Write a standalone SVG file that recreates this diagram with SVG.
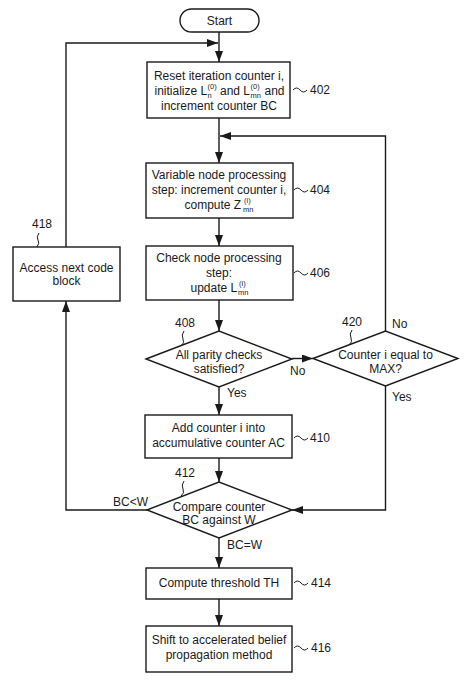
<svg xmlns="http://www.w3.org/2000/svg" width="474" height="695" viewBox="0 0 474 695">
<style>
.b{fill:#fff;stroke:#1a1a1a;stroke-width:1.4}
.t{font-family:"Liberation Sans",Arial,sans-serif;font-size:12px;fill:#1a1a1a}
.m{text-anchor:middle}
.s{font-family:"Liberation Sans",Arial,sans-serif;font-size:7.5px;fill:#1a1a1a}
.c{fill:none;stroke:#1a1a1a;stroke-width:1.4}
.l{fill:none;stroke:#1a1a1a;stroke-width:1}
</style>
<defs>
<marker id="a" markerUnits="userSpaceOnUse" markerWidth="12" markerHeight="8" refX="11" refY="4" orient="auto">
<path d="M0,0 L11,4 L0,8 Z" fill="#1a1a1a"/>
</marker>
</defs>
<rect width="474" height="695" fill="#fff"/>
<g id="connectors">
<path class="c" d="M219,32 V62" marker-end="url(#a)"/>
<path class="c" d="M66,247 V43 H218" marker-end="url(#a)"/>
<path class="c" d="M219,118 V163" marker-end="url(#a)"/>
<path class="c" d="M385.5,331 V136 H220" marker-end="url(#a)"/>
<path class="c" d="M219,218 V246" marker-end="url(#a)"/>
<path class="c" d="M219,300 V331" marker-end="url(#a)"/>
<path class="c" d="M292,358.5 H313" marker-end="url(#a)"/>
<path class="c" d="M219,387 V415" marker-end="url(#a)"/>
<path class="c" d="M219,458 V482" marker-end="url(#a)"/>
<path class="c" d="M385.5,386 V510 H292" marker-end="url(#a)"/>
<path class="c" d="M147,510 H66 V301" marker-end="url(#a)"/>
<path class="c" d="M219,538 V568" marker-end="url(#a)"/>
<path class="c" d="M219,599 V626" marker-end="url(#a)"/>
<text class="t" x="227" y="397">Yes</text>
<text class="t" x="392" y="328">No</text>
<text class="t" x="392" y="401">Yes</text>
<text class="t" x="290" y="375">No</text>
<text class="t" x="113" y="506">BC&lt;W</text>
<text class="t" x="227" y="549">BC=W</text>
</g>
<g id="start">
<rect class="b" x="180" y="9" width="79" height="23" rx="11.5"/>
<text class="t m" x="219.5" y="25">Start</text>
</g>
<g id="n402">
<rect class="b" x="147" y="62" width="143" height="56"/>
<text class="t m" x="219" y="80">Reset iteration counter i,</text>
<text class="t" x="154.5" y="95">initialize L</text>
<text class="s" x="207.5" y="89">(0)</text>
<text class="s" x="207.5" y="98">n</text>
<text class="t" x="220" y="95">and L</text>
<text class="s" x="250.5" y="89">(0)</text>
<text class="s" x="250.5" y="98">mn</text>
<text class="t" x="264.5" y="95">and</text>
<text class="t m" x="219" y="110">increment counter BC</text>
<path class="l" d="M293,90 q3.5,-4 7,0 t7,0"/>
<text class="t" x="310" y="94">402</text>
</g>
<g id="n404">
<rect class="b" x="146" y="163" width="147" height="55"/>
<text class="t m" x="219" y="179">Variable node processing</text>
<text class="t m" x="219" y="194">step: increment counter i,</text>
<text class="t" x="184.5" y="209">compute Z</text>
<text class="s" x="244" y="203">(i)</text>
<text class="s" x="243" y="212">mn</text>
<path class="l" d="M294,190 q3.5,-4 7,0 t7,0"/>
<text class="t" x="310" y="194">404</text>
</g>
<g id="n406">
<rect class="b" x="146" y="246" width="147" height="54"/>
<text class="t m" x="219" y="262">Check node  processing</text>
<text class="t m" x="219" y="277">step:</text>
<text class="t" x="190.5" y="292">update L</text>
<text class="s" x="239" y="286">(i)</text>
<text class="s" x="238" y="295">mn</text>
<path class="l" d="M294,273 q3.5,-4 7,0 t7,0"/>
<text class="t" x="310" y="277">406</text>
</g>
<g id="n418">
<rect class="b" x="13" y="247" width="107" height="54"/>
<text class="t m" x="66.5" y="272">Access next code</text>
<text class="t m" x="66.5" y="285">block</text>
<path class="l" d="M39,233 q-3,4 -1,7 t-1,7"/>
<text class="t" x="32" y="228">418</text>
</g>
<g id="n408">
<path class="b" d="M146,359 L219,331 L292,359 L219,387 Z"/>
<text class="t m" x="219" y="359">All parity checks</text>
<text class="t m" x="219" y="373">satisfied?</text>
<path class="l" d="M184,331 q-3,4 -1,8 t-2,7"/>
<text class="t" x="175" y="327">408</text>
</g>
<g id="n420">
<path class="b" d="M313,358.5 L385.5,331 L458,358.5 L385.5,386 Z"/>
<text class="t m" x="385.5" y="359">Counter i equal to</text>
<text class="t m" x="385.5" y="373">MAX?</text>
<path class="l" d="M352,330 q-3,4 -1,8 t-2,7"/>
<text class="t" x="342" y="326">420</text>
</g>
<g id="n410">
<rect class="b" x="145" y="415" width="147" height="43"/>
<text class="t m" x="218.5" y="432">Add counter i into</text>
<text class="t m" x="218.5" y="447">accumulative counter AC</text>
<path class="l" d="M294,438 q3.5,-4 7,0 t7,0"/>
<text class="t" x="310" y="442">410</text>
</g>
<g id="n412">
<path class="b" d="M147,510 L219,482 L292,510 L219,538 Z"/>
<text class="t m" x="219" y="511">Compare counter</text>
<text class="t m" x="219" y="524">BC against W</text>
<path class="l" d="M184,481 q-3,4 -1,8 t-2,7"/>
<text class="t" x="175" y="477">412</text>
</g>
<g id="n414">
<rect class="b" x="146" y="568" width="146" height="31"/>
<text class="t m" x="219" y="587">Compute threshold TH</text>
<path class="l" d="M294,583 q3.5,-4 7,0 t7,0"/>
<text class="t" x="311" y="587">414</text>
</g>
<g id="n416">
<rect class="b" x="146" y="626" width="146" height="46"/>
<text class="t m" x="219" y="644">Shift to accelerated belief</text>
<text class="t m" x="219" y="659">propagation method</text>
<path class="l" d="M294,648 q3.5,-4 7,0 t7,0"/>
<text class="t" x="311" y="652">416</text>
</g>
</svg>
